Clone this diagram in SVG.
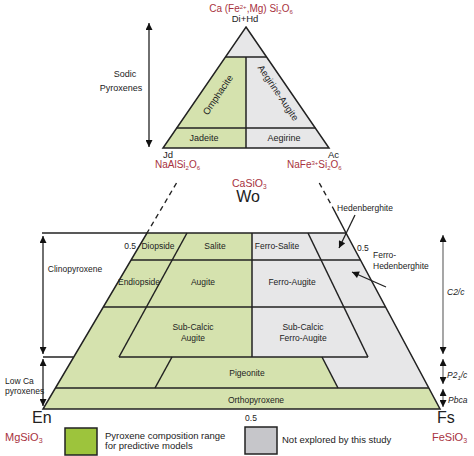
<svg xmlns="http://www.w3.org/2000/svg" width="474" height="456" viewBox="0 0 474 456">
<defs>
<style>
text{font-family:"Liberation Sans",Arial,sans-serif;fill:#222;}
.t{font-size:8.5px;}
.c{text-anchor:middle;}
.red{fill:#a8323e;}
.big{font-size:16px;fill:#222;}
.lg{font-size:9.5px;}
.it{font-style:italic;font-size:8.5px;}
.ln{stroke:#222;stroke-width:1.5;fill:none;}
.gr{fill:#d5e2ae;}
.gy{fill:#e7e7e8;}
.ar{stroke:#222;stroke-width:1.3;fill:none;}
.arg{stroke:#777;stroke-width:1.3;fill:none;}
.dash{stroke:#222;stroke-width:1.4;stroke-dasharray:5 4;fill:none;}
</style>
<marker id="ah" viewBox="0 0 10 10" refX="10" refY="5" markerWidth="9" markerHeight="7" markerUnits="userSpaceOnUse" orient="auto-start-reverse"><path d="M0,0 L10,5 L0,10 z" fill="#111"/></marker>
</defs>
<rect width="474" height="456" fill="#fff"/>

<g id="sodic-triangle">
<polygon class="gy" points="246,27 329,148 163,148"/>
<polygon class="gr" points="225.4,57 246,57 246,148 163,148"/>
<polygon class="ln" points="246,27 329,148 163,148"/>
<line class="ln" x1="225.4" y1="57" x2="266.6" y2="57"/>
<line class="ln" x1="246" y1="57" x2="246" y2="148"/>
<line class="ln" x1="176.7" y1="128" x2="315.3" y2="128"/>
<text class="t" style="font-size:9.5px" transform="translate(218,95) rotate(-56)" text-anchor="middle" dy="3">Omphacite</text>
<text class="t" style="font-size:9.5px" transform="translate(278,93) rotate(56)" text-anchor="middle" dy="3">Aegirine-Augite</text>
<text class="t c" x="204" y="141" style="font-size:9px">Jadeite</text>
<text class="t c" x="284" y="141" style="font-size:9px">Aegirine</text>
</g>

<g id="labels-top">
<text class="red c" x="251" y="12" style="font-size:10px">Ca (Fe<tspan dy="-3" style="font-size:6px">2+</tspan><tspan dy="3">,Mg) Si</tspan><tspan dy="2" style="font-size:6px">2</tspan><tspan dy="-2">O</tspan><tspan dy="2" style="font-size:6px">6</tspan></text>
<text class="c" x="245" y="22" style="font-size:9.5px">Di+Hd</text>
<text x="163" y="158" style="font-size:9.5px">Jd</text>
<text class="red" x="155" y="168" style="font-size:10px">NaAlSi<tspan dy="2" style="font-size:6px">2</tspan><tspan dy="-2">O</tspan><tspan dy="2" style="font-size:6px">6</tspan></text>
<text x="328" y="158" style="font-size:9.5px">Ac</text>
<text class="red" x="287" y="168" style="font-size:10px">NaFe<tspan dy="-3" style="font-size:6px">3+</tspan><tspan dy="3">Si</tspan><tspan dy="2" style="font-size:6px">2</tspan><tspan dy="-2">O</tspan><tspan dy="2" style="font-size:6px">6</tspan></text>
<text class="red" x="232" y="187" style="font-size:10.5px">CaSiO<tspan dy="2" style="font-size:6.5px">3</tspan></text>
<text class="big c" x="248" y="202">Wo</text>
<text class="t c" x="125" y="77" style="font-size:9px">Sodic</text>
<text class="t c" x="121" y="91" style="font-size:9px">Pyroxenes</text>
</g>

<g id="quad">
<polygon class="gr" points="43,409 440,409 346,233 147,233"/>
<polygon class="gy" points="252,233 346,233 428.8,388 338,388 322,357 252,357"/>
<polygon class="ln" points="43,409 440,409 346,233 147,233"/>
<line class="ln" x1="131" y1="260" x2="360.4" y2="260"/>
<line class="ln" x1="103.3" y1="307" x2="385.5" y2="307"/>
<line class="ln" x1="187" y1="233" x2="119" y2="357"/>
<line class="ln" x1="308" y1="233" x2="368" y2="357"/>
<line class="ln" x1="119" y1="357" x2="368" y2="357"/>
<line class="ln" x1="252" y1="233" x2="252" y2="357"/>
<line class="ln" x1="172" y1="357" x2="155" y2="388"/>
<line class="ln" x1="322" y1="357" x2="338" y2="388"/>
<line class="ln" x1="55.4" y1="388" x2="428.8" y2="388"/>
</g>

<g id="quad-labels">
<text class="t" x="136" y="249" text-anchor="end">0.5</text>
<text class="t c" x="158" y="249">Diopside</text>
<text class="t c" x="215" y="249">Salite</text>
<text class="t c" x="277" y="249">Ferro-Salite</text>
<text class="t c" x="139" y="285">Endiopside</text>
<text class="t c" x="203" y="285">Augite</text>
<text class="t c" x="292" y="285">Ferro-Augite</text>
<text class="t c" x="193" y="330">Sub-Calcic</text>
<text class="t c" x="193" y="341">Augite</text>
<text class="t c" x="303" y="330">Sub-Calcic</text>
<text class="t c" x="303" y="341">Ferro-Augite</text>
<text class="t c" x="247" y="376">Pigeonite</text>
<text class="t c" x="256" y="403">Orthopyroxene</text>
<text class="t" x="357" y="251">0.5</text>
<text class="t c" x="365" y="211">Hedenberghite</text>
<text class="t" x="373" y="258">Ferro-</text>
<text class="t" x="373" y="269">Hedenberghite</text>
<text class="t c" x="75" y="272">Clinopyroxene</text>
<text class="t" x="5" y="384">Low Ca</text>
<text class="t" x="5" y="394">pyroxenes</text>
<text class="it" x="447" y="295">C2/c</text>
<text class="it" x="447" y="378">P2<tspan dy="2" style="font-size:6px">1</tspan><tspan dy="-2">/c</tspan></text>
<text class="it" x="448" y="403">Pbca</text>
<text class="big" x="32" y="423">En</text>
<text class="big" x="437" y="423">Fs</text>
<text class="t c" x="251" y="421">0.5</text>
<text class="red" x="5" y="441" style="font-size:11px">MgSiO<tspan dy="2" style="font-size:7px">3</tspan></text>
<text class="red" x="432" y="441" style="font-size:11px">FeSiO<tspan dy="2" style="font-size:7px">3</tspan></text>
</g>

<g id="connectors">
<line class="ar" x1="149" y1="23" x2="149" y2="147" marker-start="url(#ah)" marker-end="url(#ah)"/>
<line class="dash" x1="176.5" y1="183" x2="147" y2="233"/>
<line class="dash" x1="319.3" y1="183" x2="333" y2="208"/>
<line class="ln" x1="333" y1="208" x2="346" y2="233"/>
<line class="ln" x1="42" y1="233" x2="147" y2="233"/>
<line class="ln" x1="43" y1="357" x2="73.7" y2="357"/>
<line class="ar" x1="43" y1="236" x2="43" y2="354" marker-start="url(#ah)" marker-end="url(#ah)"/>
<line class="ar" x1="43" y1="359" x2="43" y2="406" marker-start="url(#ah)" marker-end="url(#ah)"/>
<line class="arg" x1="443" y1="235" x2="443" y2="354" marker-start="url(#ah)" marker-end="url(#ah)"/>
<line class="arg" x1="443" y1="359" x2="443" y2="384" marker-start="url(#ah)" marker-end="url(#ah)"/>
<line class="arg" x1="443" y1="389" x2="443" y2="407" marker-start="url(#ah)" marker-end="url(#ah)"/>
<line class="ar" x1="355" y1="215" x2="339" y2="248" marker-end="url(#ah)"/>
<line class="ar" x1="386" y1="287" x2="352" y2="272" marker-end="url(#ah)"/>
</g>

<g id="legend">
<rect x="65" y="428" width="32" height="27" fill="#9dc43c" stroke="#222" stroke-width="1.5"/>
<text class="lg" x="105" y="439">Pyroxene composition range</text>
<text class="lg" x="105" y="449">for predictive models</text>
<rect x="245" y="427" width="32" height="27" fill="#c6c6ca" stroke="#222" stroke-width="1.5"/>
<text class="lg" x="282" y="443">Not explored by this study</text>
</g>
</svg>
